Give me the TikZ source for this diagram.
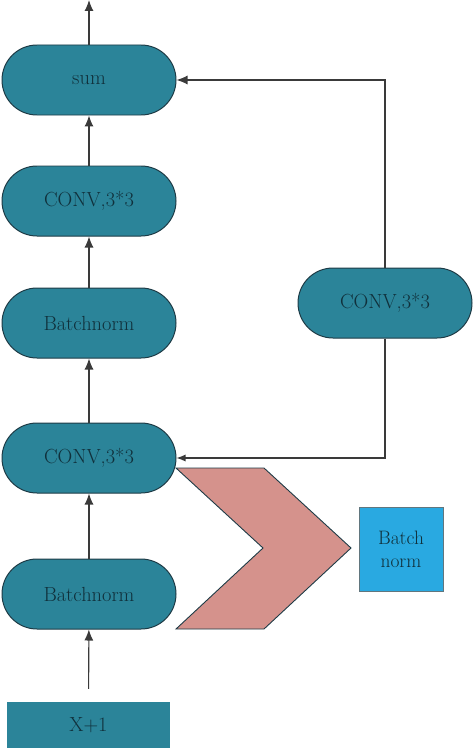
\documentclass[tikz,border=0pt]{standalone}
\usetikzlibrary{calc, arrows.meta}
\definecolor{blockteal}{HTML}{2B8499}
\definecolor{blockline}{HTML}{1E3B46}
\definecolor{blocktext}{HTML}{10303B}
\definecolor{chevpink}{HTML}{D5928C}
\definecolor{normblue}{HTML}{29A9E1}
\definecolor{wiregray}{HTML}{3A3A3A}

\begin{document}
\begin{tikzpicture}[
    x=1bp, y=-1bp,
    pill/.style={draw=blockline, line width=1pt, fill=blockteal, rounded corners=35bp,
                 minimum width=174bp, minimum height=70bp, text=blocktext,
                 font=\fontsize{20.5}{22}\selectfont},
    wire/.style={wiregray, line width=1.1pt},
    >={Latex[length=11bp, width=9bp]}
]

\useasboundingbox (0,0) rectangle (474,748);

% Main column
\node[pill] (sum)    at (89,80)  {sum};
\node[pill] (convB)  at (89,201) {CONV,3*3};
\node[pill] (bnB)    at (89,323) {Batchnorm};
\node[pill] (convA)  at (89,458) {CONV,3*3};
\node[pill] (bnA)    at (89,594) {Batchnorm};
\node[fill=blockteal, minimum width=163bp, minimum height=46bp, text=blocktext,
      font=\fontsize{20.5}{22}\selectfont] (input) at (88.5,725) {X+1};

% Shortcut branch
\node[pill] (convS) at (385,303) {CONV,3*3};

% Batch norm box
\node[draw=blockline!70, line width=1pt, fill=normblue, minimum width=84bp, minimum height=84bp,
      text=blocktext, align=center, font=\fontsize{19.5}{23}\selectfont] (bnbox) at (401,549) {Batch\\norm};

% Chevron
\draw[draw=blockline, line width=0.9pt, fill=chevpink]
    (176,468) -- (264,468) -- (351,548) -- (264,629) -- (176,629) -- (263,548) -- cycle;

% Arrows
\coordinate (out) at (89,0);
\draw[wire, ->, shorten <=13bp] (input) -- (bnA);
\draw[wire, ->] (bnA) -- (convA);
\draw[wire, ->] (convA) -- (bnB);
\draw[wire, ->] (bnB) -- (convB);
\draw[wire, ->] (convB) -- (sum);
\draw[wire, ->] (sum) -- (out);
\draw[wire, ->] (convS.north) |- (sum.east);
\draw[wire, ->, >={Latex[length=9bp, width=7bp]}] (convS.south) |- (convA.east);

\end{tikzpicture}
\end{document}
